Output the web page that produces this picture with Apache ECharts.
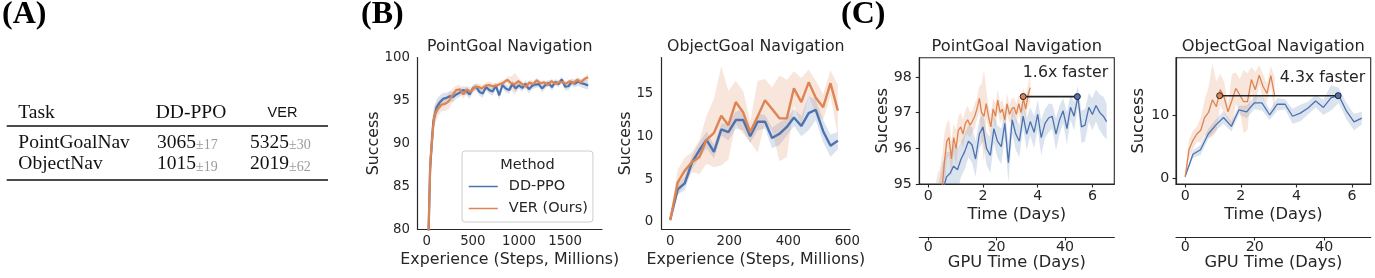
<!DOCTYPE html>
<html>
<head>
<meta charset="utf-8">
<script src="https://cdn.jsdelivr.net/npm/echarts@6/dist/echarts.min.js"></script>
<style>
  html, body { margin: 0; padding: 0; background: #fff; }
  #chart { width: 1375px; height: 278px; }
</style>
</head>
<body>
<div id="chart"></div>
<script>
// ---- (A) throughput table ----
const tableTasks = ['PointGoalNav', 'ObjectNav'];
const ddppoFps = ['3065', '1015'];
const ddppoFpsErr = ['17', '19'];
const verFps = ['5325', '2019'];
const verFpsErr = ['30', '62'];

// ---- PointGoal, DD-PPO ----
const pgDdppoSteps = [0, 36, 71, 107, 143, 179, 214, 250, 286, 321, 357, 393, 429, 464, 500, 536, 571, 607, 643, 679,
  714, 750, 786, 821, 857, 893, 929, 964, 1000, 1036, 1071, 1107, 1143, 1179, 1214, 1250, 1286, 1321, 1357, 1393,
  1429, 1464, 1500, 1536, 1571, 1607, 1643, 1679, 1714, 1750];
const pgDdppoDays = [0, 0.13, 0.27, 0.40, 0.53, 0.67, 0.80, 0.93, 1.07, 1.20, 1.33, 1.47, 1.60, 1.73, 1.87, 2.00, 2.13,
  2.27, 2.40, 2.53, 2.67, 2.80, 2.93, 3.07, 3.20, 3.33, 3.47, 3.60, 3.73, 3.87, 4.00, 4.13, 4.27, 4.40, 4.53, 4.67,
  4.80, 4.93, 5.07, 5.20, 5.33, 5.47, 5.60, 5.73, 5.87, 6.00, 6.13, 6.27, 6.40, 6.52];
const pgDdppoMean = [70, 87, 92.5, 94.2, 94.8, 95.2, 95.3, 95.5, 95.4, 95.7, 95.9, 96.2, 96.1, 95.7, 96.4, 96.6, 96.0,
  95.8, 96.55, 96.2, 96.05, 96.7, 95.6, 96.8, 96.4, 96.2, 96.9, 96.4, 96.75, 96.45, 96.95, 96.3, 96.7, 96.85, 96.9,
  96.4, 96.8, 97.05, 96.55, 97.15, 96.9, 97.45, 96.6, 96.65, 97.15, 96.95, 97.2, 97.0, 96.9, 96.75];
const pgDdppoErr = [6, 2.5, 1.2, 0.9, 0.8, 0.7, 0.6, 0.6, 0.6, 0.5, 0.5, 0.45, 0.5, 0.5, 0.4, 0.4, 0.45, 0.5, 0.4, 0.45,
  0.5, 0.4, 0.55, 0.4, 0.45, 0.45, 0.35, 0.45, 0.4, 0.45, 0.4, 0.5, 0.4, 0.4, 0.35, 0.45, 0.4, 0.35, 0.45, 0.35,
  0.4, 0.3, 0.45, 0.45, 0.4, 0.45, 0.45, 0.5, 0.55, 0.5];

// ---- PointGoal, VER ----
const pgVerSteps = [0, 40, 80, 119, 159, 199, 239, 278, 318, 358, 398, 437, 477, 517, 557, 597, 636, 676, 716, 756,
  795, 835, 875, 915, 955, 994, 1034, 1074, 1114, 1154, 1193, 1233, 1273, 1313, 1352, 1392, 1432, 1472, 1511, 1551,
  1591, 1631, 1670, 1710, 1750];
const pgVerDays = [0, 0.08, 0.17, 0.25, 0.34, 0.42, 0.51, 0.59, 0.68, 0.76, 0.85, 0.93, 1.02, 1.10, 1.19, 1.27, 1.36,
  1.44, 1.53, 1.61, 1.70, 1.78, 1.87, 1.95, 2.04, 2.12, 2.20, 2.29, 2.37, 2.46, 2.54, 2.63, 2.71, 2.80, 2.88, 2.97,
  3.05, 3.14, 3.22, 3.31, 3.39, 3.48, 3.56, 3.65, 3.73];
const pgVerMean = [72, 88, 93.2, 94.0, 94.5, 94.6, 94.9, 95.6, 96.2, 96.3, 95.7, 96.3, 96.0, 96.5, 96.6, 96.4, 96.7,
  96.8, 96.65, 96.75, 96.9, 97.1, 97.4, 97.0, 96.9, 97.25, 96.9, 96.6, 97.1, 96.9, 97.35, 97.0, 97.1, 96.8, 97.25,
  96.95, 97.1, 97.15, 96.95, 97.25, 97.0, 97.4, 97.1, 97.5, 97.7];
const pgVerErr = [4, 2.5, 1.2, 0.9, 0.8, 0.8, 0.9, 0.8, 0.5, 0.5, 0.5, 0.4, 0.5, 0.4, 0.4, 0.4, 0.35, 0.4, 0.35, 0.3,
  0.35, 0.3, 0.35, 0.8, 1.3, 0.4, 0.3, 0.35, 0.3, 0.35, 0.3, 0.3, 0.25, 0.3, 0.3, 0.25, 0.3, 0.25, 0.3, 0.25,
  0.3, 0.3, 0.3, 0.3, 0.4];

// ---- ObjectGoal (both methods share the step grid) ----
const ogSteps = [0, 25, 49, 74, 99, 123, 148, 173, 197, 222, 247, 271, 296, 321, 345, 370, 395, 419, 444, 469, 493, 518, 543, 568];
const ogDdppoDays = [0, 0.28, 0.55, 0.83, 1.10, 1.38, 1.66, 1.93, 2.21, 2.48, 2.76, 3.04, 3.31, 3.59, 3.86, 4.14, 4.42,
  4.69, 4.97, 5.24, 5.52, 5.80, 6.07, 6.35];
const ogVerDays = [0, 0.14, 0.28, 0.42, 0.56, 0.70, 0.84, 0.98, 1.12, 1.26, 1.40, 1.54, 1.68, 1.82, 1.96, 2.10, 2.24,
  2.38, 2.52, 2.66, 2.80, 2.94, 3.08, 3.22];
const ogDdppoMean = [0.3, 3.8, 4.5, 7.0, 8.4, 9.6, 8.2, 10.8, 10.5, 11.9, 11.9, 10.0, 11.7, 11.7, 9.8, 10.3, 11.1, 12.2,
  11.2, 12.7, 13.1, 10.6, 8.9, 9.5];
const ogDdppoErr = [0.2, 0.6, 0.8, 0.8, 0.9, 1.0, 0.8, 0.7, 1.0, 1.0, 1.2, 0.8, 1.0, 0.8, 1.2, 1.3, 1.0, 1.0, 1.2, 2.0,
  1.2, 1.3, 1.3, 1.0];
const ogVerMean = [0.2, 4.6, 6.0, 7.0, 7.6, 9.6, 10.4, 12.4, 11.3, 14.0, 12.8, 10.5, 12.3, 14.2, 13.2, 12.1, 12.1, 15.6,
  14.0, 16.3, 14.5, 13.4, 16.2, 13.0];
const ogVerErr = [0.2, 1.5, 1.5, 1.2, 2.0, 2.8, 4.0, 5.8, 4.0, 2.5, 2.5, 1.2, 4.2, 2.5, 2.5, 5.0, 4.5, 2.0, 2.8, 1.5,
  2.0, 1.5, 1.5, 3.0];

// speed-up markers (days, success level)
const pgFasterDays = [3.47, 5.45];
const pgFasterLevel = 97.45;
const ogFasterDays = [1.24, 5.5];
const ogFasterLevel = 13.05;

// tick labels
const b1StepTicks = [0, 500, 1000, 1500];
const b1SuccessTicks = [80, 85, 90, 95, 100];
const b2StepTicks = [0, 200, 400, 600];
const b2SuccessTicks = [0, 5, 10, 15];
const dayTicks = [0, 2, 4, 6];
const gpuDayTicks = [0, 20, 40];
const c1SuccessTicks = [95, 96, 97, 98];
const c2SuccessTicks = [0, 10];

const INK = '#262626';
const BLUE = '#4c72b0';
const ORANGE = '#dd8452';
const SANS = '"DejaVu Sans", sans-serif';
const SERIF = '"Liberation Serif", "Times New Roman", serif';

const chart = echarts.init(document.getElementById('chart'), null, { renderer: 'canvas' });

function pts(xs, ys) {
  return xs.map((x, i) => [x, ys[i]]);
}

// confidence band drawn as one polygon through the axis scales
function band(id, xs, mean, err, color, xi, yi) {
  return {
    type: 'custom', name: id, xAxisIndex: xi, yAxisIndex: yi, silent: true, z: 1, clip: true,
    data: xs.map((x, i) => [x, +(mean[i] - err[i]).toFixed(3), +(mean[i] + err[i]).toFixed(3)]),
    encode: { x: 0, y: [1, 2] },
    renderItem: function (params, api) {
      if (params.dataIndexInside !== 0) return null;
      const n = params.dataInsideLength;
      const up = [], lo = [];
      for (let j = 0; j < n; j++) {
        up.push(api.coord([api.value(0, j), api.value(2, j)]));
        lo.push(api.coord([api.value(0, j), api.value(1, j)]));
      }
      return {
        type: 'polygon',
        shape: { points: up.concat(lo.reverse()) },
        style: { fill: color, opacity: 0.2 }
      };
    }
  };
}

function curve(name, xs, mean, color, width, xi, yi) {
  return {
    type: 'line', name: name, xAxisIndex: xi, yAxisIndex: yi, data: pts(xs, mean),
    symbol: 'none', lineStyle: { color: color, width: width }, itemStyle: { color: color },
    z: 3, silent: true, emphasis: { disabled: true }
  };
}

function marker(name, days, level, xi, yi) {
  return {
    type: 'line', name: name, xAxisIndex: xi, yAxisIndex: yi, z: 5, silent: true,
    symbol: 'circle', symbolSize: 6, showSymbol: true,
    lineStyle: { color: '#222', width: 1.6 },
    itemStyle: { borderColor: '#222', borderWidth: 1 },
    data: [
      { value: [days[0], level], itemStyle: { color: ORANGE } },
      { value: [days[1], level], itemStyle: { color: BLUE } }
    ]
  };
}

function axis(o, ticks, fontSize, margin, showTicks) {
  return Object.assign({
    type: 'value',
    axisLine: { show: true, onZero: false, lineStyle: { color: INK, width: 1.2 } },
    axisTick: showTicks
      ? { show: true, length: 3.5, customValues: ticks, lineStyle: { color: INK, width: 1.1 } }
      : { show: false },
    axisLabel: {
      customValues: ticks, color: INK, fontSize: fontSize, fontFamily: SANS, margin: margin,
      formatter: function (v) { return String(v); }
    },
    splitLine: { show: false },
    nameLocation: 'middle',
    nameMoveOverlap: false,
  }, o);
}

function nameStyle(size) {
  return { color: INK, fontSize: size, fontFamily: SANS };
}

function txt(str, x, y, font, align, fill) {
  return {
    type: 'text', x: x, y: y, z: 100, silent: true,
    style: {
      text: str, font: font, fill: fill || INK,
      align: align || 'center', verticalAlign: 'middle',
      textAlign: align || 'center', textVerticalAlign: 'middle'
    }
  };
}

function fpsText(v, e, x, y) {
  return {
    type: 'text', x: x, y: y, z: 100, silent: true,
    style: {
      text: '{v|' + v + '}{e|\u00b1' + e + '}',
      align: 'left', verticalAlign: 'middle', textAlign: 'left', textVerticalAlign: 'middle',
      rich: {
        v: { fontSize: 19.5, fontFamily: SERIF, fill: '#111', verticalAlign: 'bottom' },
        e: { fontSize: 14, fontFamily: SERIF, fill: '#9a9a9a', verticalAlign: 'bottom' }
      }
    }
  };
}

const rowY = [142.7, 164];
const graphic = [
  txt('(A)', 2, 15, 'bold 32px ' + SERIF, 'left', '#000'),
  txt('(B)', 361, 15, 'bold 32px ' + SERIF, 'left', '#000'),
  txt('(C)', 841, 15, 'bold 32px ' + SERIF, 'left', '#000'),
  txt('Task', 18.3, 113, '19.5px ' + SERIF, 'left', '#111'),
  txt('DD-PPO', 191, 113, '19.5px ' + SERIF, 'center', '#111'),
  txt('VER', 282.5, 113, '14.5px "Liberation Sans", sans-serif', 'center', '#111'),
  { type: 'line', z: 100, silent: true, shape: { x1: 6.7, y1: 126, x2: 328, y2: 126 }, style: { stroke: '#111', lineWidth: 1.3 } },
  { type: 'line', z: 100, silent: true, shape: { x1: 6.7, y1: 180, x2: 328, y2: 180 }, style: { stroke: '#111', lineWidth: 1.3 } },
  txt('PointGoal Navigation', 509.7, 46.7, '15.8px ' + SANS),
  txt('ObjectGoal Navigation', 755.8, 46.7, '15.8px ' + SANS),
  txt('PointGoal Navigation', 1016.8, 46.7, '16.3px ' + SANS),
  txt('ObjectGoal Navigation', 1273.3, 46.7, '16.3px ' + SANS),
  txt('Method', 527.5, 165, '14.5px ' + SANS),
  txt('1.6x faster', 1065.5, 72.7, '15.8px ' + SANS),
  txt('4.3x faster', 1322.5, 78.3, '15.8px ' + SANS)
];
tableTasks.forEach((t, i) => {
  graphic.push(txt(t, 18.3, rowY[i], '19.5px ' + SERIF, 'left', '#111'));
  graphic.push(fpsText(ddppoFps[i], ddppoFpsErr[i], 157, rowY[i]));
  graphic.push(fpsText(verFps[i], verFpsErr[i], 250, rowY[i]));
});

const series = [
  band('b1d', pgDdppoSteps, pgDdppoMean, pgDdppoErr, BLUE, 0, 0),
  band('b1v', pgVerSteps, pgVerMean, pgVerErr, ORANGE, 0, 0),
  curve('DD-PPO', pgDdppoSteps, pgDdppoMean, BLUE, 2.2, 0, 0),
  curve('VER (Ours)', pgVerSteps, pgVerMean, ORANGE, 2.2, 0, 0),

  band('b2d', ogSteps, ogDdppoMean, ogDdppoErr, BLUE, 1, 1),
  band('b2v', ogSteps, ogVerMean, ogVerErr, ORANGE, 1, 1),
  curve('DD-PPO', ogSteps, ogDdppoMean, BLUE, 2.4, 1, 1),
  curve('VER (Ours)', ogSteps, ogVerMean, ORANGE, 2.4, 1, 1),

  band('c1d', pgDdppoDays, pgDdppoMean, pgDdppoErr, BLUE, 2, 2),
  band('c1v', pgVerDays, pgVerMean, pgVerErr, ORANGE, 2, 2),
  curve('DD-PPO', pgDdppoDays, pgDdppoMean, BLUE, 1.3, 2, 2),
  curve('VER (Ours)', pgVerDays, pgVerMean, ORANGE, 1.3, 2, 2),
  marker('pg-faster', pgFasterDays, pgFasterLevel, 2, 2),

  band('c2d', ogDdppoDays, ogDdppoMean, ogDdppoErr, BLUE, 4, 3),
  band('c2v', ogVerDays, ogVerMean, ogVerErr, ORANGE, 4, 3),
  curve('DD-PPO', ogDdppoDays, ogDdppoMean, BLUE, 1.3, 4, 3),
  curve('VER (Ours)', ogVerDays, ogVerMean, ORANGE, 1.3, 4, 3),
  marker('og-faster', ogFasterDays, ogFasterLevel, 4, 3)
];

chart.setOption({
  animation: false,
  backgroundColor: '#fff',
  textStyle: { fontFamily: SANS },
  grid: [
    { left: 417.5, top: 57.5, width: 184.5, height: 171.8, outerBoundsMode: 'none' },
    { left: 661.7, top: 57.5, width: 188.3, height: 171.8, outerBoundsMode: 'none' },
    { left: 919.3, top: 57.7, width: 195, height: 126.3, show: true, borderColor: INK, borderWidth: 1.1, outerBoundsMode: 'none' },
    { left: 1176, top: 57.7, width: 194.7, height: 126.3, show: true, borderColor: INK, borderWidth: 1.1, outerBoundsMode: 'none' }
  ],
  xAxis: [
    axis({ gridIndex: 0, min: -100, max: 1900, name: 'Experience (Steps, Millions)', nameGap: 23, nameTextStyle: nameStyle(15.8) },
      b1StepTicks, 13.3, 6, false),
    axis({ gridIndex: 1, min: -29, max: 609, name: 'Experience (Steps, Millions)', nameGap: 23, nameTextStyle: nameStyle(15.8) },
      b2StepTicks, 13.3, 6, false),
    axis({ gridIndex: 2, min: -0.325, max: 6.8, name: 'Time (Days)', nameGap: 23, nameTextStyle: nameStyle(16.3) },
      dayTicks, 14.2, 5, true),
    axis({ gridIndex: 2, position: 'bottom', offset: 53, min: -2.6, max: 54.4, name: 'GPU Time (Days)', nameGap: 18, nameTextStyle: nameStyle(16.3) },
      gpuDayTicks, 14.2, 3, true),
    axis({ gridIndex: 3, min: -0.33, max: 6.67, name: 'Time (Days)', nameGap: 23, nameTextStyle: nameStyle(16.3) },
      dayTicks, 14.2, 5, true),
    axis({ gridIndex: 3, position: 'bottom', offset: 53, min: -2.64, max: 53.36, name: 'GPU Time (Days)', nameGap: 18, nameTextStyle: nameStyle(16.3) },
      gpuDayTicks, 14.2, 3, true)
  ],
  yAxis: [
    axis({ gridIndex: 0, min: 80, max: 100, name: 'Success', nameGap: 36, nameTextStyle: nameStyle(15.8) },
      b1SuccessTicks, 13.3, 7.5, false),
    axis({ gridIndex: 1, min: -0.85, max: 19.2, name: 'Success', nameGap: 28, nameTextStyle: nameStyle(15.8) },
      b2SuccessTicks, 13.3, 8.4, false),
    axis({ gridIndex: 2, min: 95, max: 98.54, name: 'Success', nameGap: 29, nameTextStyle: nameStyle(16.3) },
      c1SuccessTicks, 14.2, 7.6, true),
    axis({ gridIndex: 3, min: -0.9, max: 19.05, name: 'Success', nameGap: 29, nameTextStyle: nameStyle(16.3) },
      c2SuccessTicks, 14.2, 6.7, true)
  ],
  legend: {
    data: ['DD-PPO', 'VER (Ours)'],
    orient: 'vertical',
    left: 462, top: 151,
    padding: [28, 5, 6, 6],
    itemWidth: 29, itemHeight: 14, itemGap: 7,
    selectedMode: false,
    backgroundColor: 'rgba(255,255,255,0.85)',
    borderColor: '#cccccc', borderWidth: 1, borderRadius: 3,
    itemStyle: { opacity: 0 },
    lineStyle: { width: 1.5 },
    textStyle: { color: INK, fontSize: 14.5, fontFamily: SANS, padding: [0, 0, 0, 6] }
  },
  graphic: graphic,
  series: series
});
</script>
</body>
</html>
